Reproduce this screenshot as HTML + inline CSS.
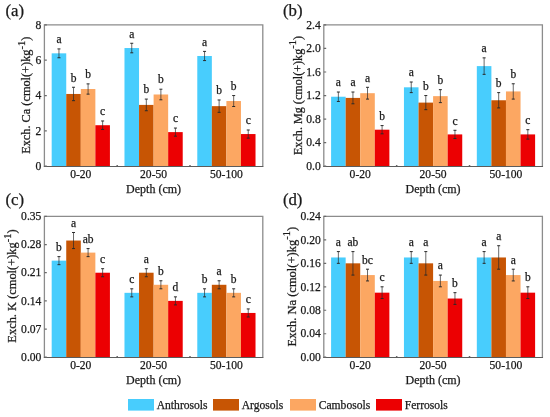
<!DOCTYPE html>
<html><head><meta charset="utf-8"><style>
html,body{margin:0;padding:0;background:#fff;}
body{width:550px;height:417px;overflow:hidden;}
svg{display:block;will-change:transform;font-family:"Liberation Serif",serif;fill:#1a1a1a;}
text{fill:#1a1a1a;stroke:#1a1a1a;stroke-width:0.25px;}
</style></head><body>
<svg width="550" height="417" viewBox="0 0 550 417">
<rect width="550" height="417" fill="#fff"/>
<rect x="51.68" y="53.34" width="14.56" height="112.86" fill="#48cdfd"/>
<rect x="66.24" y="93.96" width="14.56" height="72.24" fill="#c75504"/>
<rect x="80.8" y="89.01" width="14.56" height="77.19" fill="#fca762"/>
<rect x="95.36" y="125.22" width="14.56" height="40.98" fill="#ec0002"/>
<rect x="124.48" y="48.04" width="14.56" height="118.16" fill="#48cdfd"/>
<rect x="139.04" y="104.91" width="14.56" height="61.29" fill="#c75504"/>
<rect x="153.6" y="94.49" width="14.56" height="71.71" fill="#fca762"/>
<rect x="168.16" y="132.11" width="14.56" height="34.09" fill="#ec0002"/>
<rect x="197.28" y="55.99" width="14.56" height="110.21" fill="#48cdfd"/>
<rect x="211.84" y="106.15" width="14.56" height="60.05" fill="#c75504"/>
<rect x="226.4" y="101.03" width="14.56" height="65.17" fill="#fca762"/>
<rect x="240.96" y="134.05" width="14.56" height="32.15" fill="#ec0002"/>
<path d="M58.96 48.92V57.75" stroke="#2a2a2a" stroke-width="0.7" fill="none"/>
<path d="M57.46 48.92H60.46M57.46 57.75H60.46" stroke="#2a2a2a" stroke-width="1" fill="none"/>
<text x="58.96" y="43.22" font-size="11.5" text-anchor="middle">a</text>
<path d="M73.52 87.25V100.67" stroke="#2a2a2a" stroke-width="0.7" fill="none"/>
<path d="M72.02 87.25H75.02M72.02 100.67H75.02" stroke="#2a2a2a" stroke-width="1" fill="none"/>
<text x="73.52" y="81.55" font-size="11.5" text-anchor="middle">b</text>
<path d="M88.08 83.89V94.14" stroke="#2a2a2a" stroke-width="0.7" fill="none"/>
<path d="M86.58 83.89H89.58M86.58 94.14H89.58" stroke="#2a2a2a" stroke-width="1" fill="none"/>
<text x="88.08" y="78.19" font-size="11.5" text-anchor="middle">b</text>
<path d="M102.64 120.98V129.46" stroke="#2a2a2a" stroke-width="0.7" fill="none"/>
<path d="M101.14 120.98H104.14M101.14 129.46H104.14" stroke="#2a2a2a" stroke-width="1" fill="none"/>
<text x="102.64" y="115.28" font-size="11.5" text-anchor="middle">c</text>
<path d="M131.76 43.27V52.81" stroke="#2a2a2a" stroke-width="0.7" fill="none"/>
<path d="M130.26 43.27H133.26M130.26 52.81H133.26" stroke="#2a2a2a" stroke-width="1" fill="none"/>
<text x="131.76" y="37.57" font-size="11.5" text-anchor="middle">a</text>
<path d="M146.32 99.08V110.74" stroke="#2a2a2a" stroke-width="0.7" fill="none"/>
<path d="M144.82 99.08H147.82M144.82 110.74H147.82" stroke="#2a2a2a" stroke-width="1" fill="none"/>
<text x="146.32" y="93.38" font-size="11.5" text-anchor="middle">b</text>
<path d="M160.88 89.19V99.79" stroke="#2a2a2a" stroke-width="0.7" fill="none"/>
<path d="M159.38 89.19H162.38M159.38 99.79H162.38" stroke="#2a2a2a" stroke-width="1" fill="none"/>
<text x="160.88" y="83.49" font-size="11.5" text-anchor="middle">b</text>
<path d="M175.44 128.05V136.17" stroke="#2a2a2a" stroke-width="0.7" fill="none"/>
<path d="M173.94 128.05H176.94M173.94 136.17H176.94" stroke="#2a2a2a" stroke-width="1" fill="none"/>
<text x="175.44" y="122.35" font-size="11.5" text-anchor="middle">c</text>
<path d="M204.56 51.39V60.58" stroke="#2a2a2a" stroke-width="0.7" fill="none"/>
<path d="M203.06 51.39H206.06M203.06 60.58H206.06" stroke="#2a2a2a" stroke-width="1" fill="none"/>
<text x="204.56" y="45.69" font-size="11.5" text-anchor="middle">a</text>
<path d="M219.12 99.97V112.33" stroke="#2a2a2a" stroke-width="0.7" fill="none"/>
<path d="M217.62 99.97H220.62M217.62 112.33H220.62" stroke="#2a2a2a" stroke-width="1" fill="none"/>
<text x="219.12" y="94.27" font-size="11.5" text-anchor="middle">b</text>
<path d="M233.68 95.55V106.5" stroke="#2a2a2a" stroke-width="0.7" fill="none"/>
<path d="M232.18 95.55H235.18M232.18 106.5H235.18" stroke="#2a2a2a" stroke-width="1" fill="none"/>
<text x="233.68" y="89.85" font-size="11.5" text-anchor="middle">b</text>
<path d="M248.24 129.99V138.12" stroke="#2a2a2a" stroke-width="0.7" fill="none"/>
<path d="M246.74 129.99H249.74M246.74 138.12H249.74" stroke="#2a2a2a" stroke-width="1" fill="none"/>
<text x="248.24" y="124.29" font-size="11.5" text-anchor="middle">c</text>
<path d="M44.4 166.2V24.9H262.8V166.2" fill="none" stroke="#8c8c8c" stroke-width="1.3"/>
<path d="M43.75 166.5H263.45" fill="none" stroke="#5c5c5c" stroke-width="1"/>
<text x="41.4" y="169.9" font-size="11.6" text-anchor="end">0</text>
<text x="41.4" y="134.57" font-size="11.6" text-anchor="end">2</text>
<text x="41.4" y="99.25" font-size="11.6" text-anchor="end">4</text>
<text x="41.4" y="63.92" font-size="11.6" text-anchor="end">6</text>
<text x="41.4" y="28.6" font-size="11.6" text-anchor="end">8</text>
<path d="M44.4 166.2h2.4M44.4 130.88h2.4M44.4 95.55h2.4M44.4 60.22h2.4M44.4 24.9h2.4" stroke="#6a6a6a" stroke-width="1.2" fill="none"/>
<path d="M117.2 166v-1M190 166v-1" stroke="#6a6a6a" stroke-width="1.5" fill="none"/>
<text x="80.8" y="178.3" font-size="11.6" text-anchor="middle">0-20</text>
<text x="153.6" y="178.3" font-size="11.6" text-anchor="middle">20-50</text>
<text x="226.4" y="178.3" font-size="11.6" text-anchor="middle">50-100</text>
<text x="153.6" y="192.9" font-size="12" text-anchor="middle">Depth (cm)</text>
<text transform="translate(30.4 95.25) rotate(-90)" x="0" y="0" font-size="12.3" text-anchor="middle">Exch. Ca (cmol(+)kg<tspan dy="-5.5" font-size="10.5">-1</tspan><tspan dy="5.5">)</tspan></text>
<text x="5.4" y="15.9" font-size="16.8">(a)</text>
<rect x="331.09" y="96.73" width="14.57" height="69.47" fill="#48cdfd"/>
<rect x="345.66" y="97.91" width="14.57" height="68.29" fill="#c75504"/>
<rect x="360.23" y="93.19" width="14.57" height="73" fill="#fca762"/>
<rect x="374.81" y="129.7" width="14.57" height="36.5" fill="#ec0002"/>
<rect x="403.95" y="87.31" width="14.57" height="78.89" fill="#48cdfd"/>
<rect x="418.53" y="102.61" width="14.57" height="63.58" fill="#c75504"/>
<rect x="433.1" y="96.14" width="14.57" height="70.06" fill="#fca762"/>
<rect x="447.67" y="134.41" width="14.57" height="31.79" fill="#ec0002"/>
<rect x="476.82" y="66.11" width="14.57" height="100.09" fill="#48cdfd"/>
<rect x="491.39" y="100.26" width="14.57" height="65.94" fill="#c75504"/>
<rect x="505.97" y="91.43" width="14.57" height="74.77" fill="#fca762"/>
<rect x="520.54" y="134.41" width="14.57" height="31.79" fill="#ec0002"/>
<path d="M338.37 92.02V101.44" stroke="#2a2a2a" stroke-width="0.7" fill="none"/>
<path d="M336.87 92.02H339.87M336.87 101.44H339.87" stroke="#2a2a2a" stroke-width="1" fill="none"/>
<text x="338.37" y="86.32" font-size="11.5" text-anchor="middle">a</text>
<path d="M352.95 92.02V103.79" stroke="#2a2a2a" stroke-width="0.7" fill="none"/>
<path d="M351.45 92.02H354.45M351.45 103.79H354.45" stroke="#2a2a2a" stroke-width="1" fill="none"/>
<text x="352.95" y="86.32" font-size="11.5" text-anchor="middle">a</text>
<path d="M367.52 87.31V99.08" stroke="#2a2a2a" stroke-width="0.7" fill="none"/>
<path d="M366.02 87.31H369.02M366.02 99.08H369.02" stroke="#2a2a2a" stroke-width="1" fill="none"/>
<text x="367.52" y="81.61" font-size="11.5" text-anchor="middle">a</text>
<path d="M382.09 125.58V133.82" stroke="#2a2a2a" stroke-width="0.7" fill="none"/>
<path d="M380.59 125.58H383.59M380.59 133.82H383.59" stroke="#2a2a2a" stroke-width="1" fill="none"/>
<text x="382.09" y="119.88" font-size="11.5" text-anchor="middle">b</text>
<path d="M411.24 82.01V92.61" stroke="#2a2a2a" stroke-width="0.7" fill="none"/>
<path d="M409.74 82.01H412.74M409.74 92.61H412.74" stroke="#2a2a2a" stroke-width="1" fill="none"/>
<text x="411.24" y="76.31" font-size="11.5" text-anchor="middle">a</text>
<path d="M425.81 95.55V109.68" stroke="#2a2a2a" stroke-width="0.7" fill="none"/>
<path d="M424.31 95.55H427.31M424.31 109.68H427.31" stroke="#2a2a2a" stroke-width="1" fill="none"/>
<text x="425.81" y="89.85" font-size="11.5" text-anchor="middle">b</text>
<path d="M440.39 89.66V102.62" stroke="#2a2a2a" stroke-width="0.7" fill="none"/>
<path d="M438.89 89.66H441.89M438.89 102.62H441.89" stroke="#2a2a2a" stroke-width="1" fill="none"/>
<text x="440.39" y="83.96" font-size="11.5" text-anchor="middle">b</text>
<path d="M454.96 130.29V138.53" stroke="#2a2a2a" stroke-width="0.7" fill="none"/>
<path d="M453.46 130.29H456.46M453.46 138.53H456.46" stroke="#2a2a2a" stroke-width="1" fill="none"/>
<text x="454.96" y="124.59" font-size="11.5" text-anchor="middle">c</text>
<path d="M484.11 57.87V74.35" stroke="#2a2a2a" stroke-width="0.7" fill="none"/>
<path d="M482.61 57.87H485.61M482.61 74.35H485.61" stroke="#2a2a2a" stroke-width="1" fill="none"/>
<text x="484.11" y="52.17" font-size="11.5" text-anchor="middle">a</text>
<path d="M498.68 92.61V107.91" stroke="#2a2a2a" stroke-width="0.7" fill="none"/>
<path d="M497.18 92.61H500.18M497.18 107.91H500.18" stroke="#2a2a2a" stroke-width="1" fill="none"/>
<text x="498.68" y="86.91" font-size="11.5" text-anchor="middle">b</text>
<path d="M513.25 83.78V99.08" stroke="#2a2a2a" stroke-width="0.7" fill="none"/>
<path d="M511.75 83.78H514.75M511.75 99.08H514.75" stroke="#2a2a2a" stroke-width="1" fill="none"/>
<text x="513.25" y="78.08" font-size="11.5" text-anchor="middle">b</text>
<path d="M527.83 129.7V139.12" stroke="#2a2a2a" stroke-width="0.7" fill="none"/>
<path d="M526.33 129.7H529.33M526.33 139.12H529.33" stroke="#2a2a2a" stroke-width="1" fill="none"/>
<text x="527.83" y="124" font-size="11.5" text-anchor="middle">c</text>
<path d="M323.8 166.2V24.9H542.4V166.2" fill="none" stroke="#8c8c8c" stroke-width="1.3"/>
<path d="M323.15 166.5H543.05" fill="none" stroke="#5c5c5c" stroke-width="1"/>
<text x="320.8" y="169.9" font-size="11.6" text-anchor="end">0.0</text>
<text x="320.8" y="146.35" font-size="11.6" text-anchor="end">0.4</text>
<text x="320.8" y="122.8" font-size="11.6" text-anchor="end">0.8</text>
<text x="320.8" y="99.25" font-size="11.6" text-anchor="end">1.2</text>
<text x="320.8" y="75.7" font-size="11.6" text-anchor="end">1.6</text>
<text x="320.8" y="52.15" font-size="11.6" text-anchor="end">2.0</text>
<text x="320.8" y="28.6" font-size="11.6" text-anchor="end">2.4</text>
<path d="M323.8 166.2h2.4M323.8 142.65h2.4M323.8 119.1h2.4M323.8 95.55h2.4M323.8 72h2.4M323.8 48.45h2.4M323.8 24.9h2.4" stroke="#6a6a6a" stroke-width="1.2" fill="none"/>
<path d="M396.67 166v-1M469.53 166v-1" stroke="#6a6a6a" stroke-width="1.5" fill="none"/>
<text x="360.23" y="178.3" font-size="11.6" text-anchor="middle">0-20</text>
<text x="433.1" y="178.3" font-size="11.6" text-anchor="middle">20-50</text>
<text x="505.97" y="178.3" font-size="11.6" text-anchor="middle">50-100</text>
<text x="433.1" y="192.9" font-size="12" text-anchor="middle">Depth (cm)</text>
<text transform="translate(301.6 95.5) rotate(-90)" x="0" y="0" font-size="12.15" text-anchor="middle">Exch. Mg (cmol(+)kg<tspan dy="-5.5" font-size="10.5">-1</tspan><tspan dy="5.5">)</tspan></text>
<text x="283" y="15.9" font-size="16.8">(b)</text>
<rect x="51.68" y="260.65" width="14.56" height="96.55" fill="#48cdfd"/>
<rect x="66.24" y="240.54" width="14.56" height="116.66" fill="#c75504"/>
<rect x="80.8" y="252.61" width="14.56" height="104.59" fill="#fca762"/>
<rect x="95.36" y="272.72" width="14.56" height="84.48" fill="#ec0002"/>
<rect x="124.48" y="292.83" width="14.56" height="64.37" fill="#48cdfd"/>
<rect x="139.04" y="272.72" width="14.56" height="84.48" fill="#c75504"/>
<rect x="153.6" y="284.79" width="14.56" height="72.41" fill="#fca762"/>
<rect x="168.16" y="300.88" width="14.56" height="56.32" fill="#ec0002"/>
<rect x="197.28" y="292.83" width="14.56" height="64.37" fill="#48cdfd"/>
<rect x="211.84" y="284.79" width="14.56" height="72.41" fill="#c75504"/>
<rect x="226.4" y="292.83" width="14.56" height="64.37" fill="#fca762"/>
<rect x="240.96" y="312.95" width="14.56" height="44.25" fill="#ec0002"/>
<path d="M58.96 256.63V264.67" stroke="#2a2a2a" stroke-width="0.7" fill="none"/>
<path d="M57.46 256.63H60.46M57.46 264.67H60.46" stroke="#2a2a2a" stroke-width="1" fill="none"/>
<text x="58.96" y="250.93" font-size="11.5" text-anchor="middle">b</text>
<path d="M73.52 232.49V248.58" stroke="#2a2a2a" stroke-width="0.7" fill="none"/>
<path d="M72.02 232.49H75.02M72.02 248.58H75.02" stroke="#2a2a2a" stroke-width="1" fill="none"/>
<text x="73.52" y="226.79" font-size="11.5" text-anchor="middle">a</text>
<path d="M88.08 248.58V256.63" stroke="#2a2a2a" stroke-width="0.7" fill="none"/>
<path d="M86.58 248.58H89.58M86.58 256.63H89.58" stroke="#2a2a2a" stroke-width="1" fill="none"/>
<text x="88.08" y="242.88" font-size="11.5" text-anchor="middle">ab</text>
<path d="M102.64 268.7V276.74" stroke="#2a2a2a" stroke-width="0.7" fill="none"/>
<path d="M101.14 268.7H104.14M101.14 276.74H104.14" stroke="#2a2a2a" stroke-width="1" fill="none"/>
<text x="102.64" y="263" font-size="11.5" text-anchor="middle">c</text>
<path d="M131.76 288.81V296.86" stroke="#2a2a2a" stroke-width="0.7" fill="none"/>
<path d="M130.26 288.81H133.26M130.26 296.86H133.26" stroke="#2a2a2a" stroke-width="1" fill="none"/>
<text x="131.76" y="283.11" font-size="11.5" text-anchor="middle">c</text>
<path d="M146.32 268.7V276.74" stroke="#2a2a2a" stroke-width="0.7" fill="none"/>
<path d="M144.82 268.7H147.82M144.82 276.74H147.82" stroke="#2a2a2a" stroke-width="1" fill="none"/>
<text x="146.32" y="263" font-size="11.5" text-anchor="middle">a</text>
<path d="M160.88 280.77V288.81" stroke="#2a2a2a" stroke-width="0.7" fill="none"/>
<path d="M159.38 280.77H162.38M159.38 288.81H162.38" stroke="#2a2a2a" stroke-width="1" fill="none"/>
<text x="160.88" y="275.07" font-size="11.5" text-anchor="middle">b</text>
<path d="M175.44 296.86V304.9" stroke="#2a2a2a" stroke-width="0.7" fill="none"/>
<path d="M173.94 296.86H176.94M173.94 304.9H176.94" stroke="#2a2a2a" stroke-width="1" fill="none"/>
<text x="175.44" y="291.16" font-size="11.5" text-anchor="middle">d</text>
<path d="M204.56 288.81V296.86" stroke="#2a2a2a" stroke-width="0.7" fill="none"/>
<path d="M203.06 288.81H206.06M203.06 296.86H206.06" stroke="#2a2a2a" stroke-width="1" fill="none"/>
<text x="204.56" y="283.11" font-size="11.5" text-anchor="middle">b</text>
<path d="M219.12 280.77V288.81" stroke="#2a2a2a" stroke-width="0.7" fill="none"/>
<path d="M217.62 280.77H220.62M217.62 288.81H220.62" stroke="#2a2a2a" stroke-width="1" fill="none"/>
<text x="219.12" y="275.07" font-size="11.5" text-anchor="middle">a</text>
<path d="M233.68 288.81V296.86" stroke="#2a2a2a" stroke-width="0.7" fill="none"/>
<path d="M232.18 288.81H235.18M232.18 296.86H235.18" stroke="#2a2a2a" stroke-width="1" fill="none"/>
<text x="233.68" y="283.11" font-size="11.5" text-anchor="middle">b</text>
<path d="M248.24 308.93V316.97" stroke="#2a2a2a" stroke-width="0.7" fill="none"/>
<path d="M246.74 308.93H249.74M246.74 316.97H249.74" stroke="#2a2a2a" stroke-width="1" fill="none"/>
<text x="248.24" y="303.23" font-size="11.5" text-anchor="middle">c</text>
<path d="M44.4 357.2V216.4H262.8V357.2" fill="none" stroke="#8c8c8c" stroke-width="1.3"/>
<path d="M43.75 357.5H263.45" fill="none" stroke="#5c5c5c" stroke-width="1"/>
<text x="41.4" y="360.9" font-size="11.6" text-anchor="end">0.00</text>
<text x="41.4" y="332.74" font-size="11.6" text-anchor="end">0.07</text>
<text x="41.4" y="304.58" font-size="11.6" text-anchor="end">0.14</text>
<text x="41.4" y="276.42" font-size="11.6" text-anchor="end">0.21</text>
<text x="41.4" y="248.26" font-size="11.6" text-anchor="end">0.28</text>
<text x="41.4" y="220.1" font-size="11.6" text-anchor="end">0.35</text>
<path d="M44.4 357.2h2.4M44.4 329.04h2.4M44.4 300.88h2.4M44.4 272.72h2.4M44.4 244.56h2.4M44.4 216.4h2.4" stroke="#6a6a6a" stroke-width="1.2" fill="none"/>
<path d="M117.2 357v-1M190 357v-1" stroke="#6a6a6a" stroke-width="1.5" fill="none"/>
<text x="80.8" y="369.3" font-size="11.6" text-anchor="middle">0-20</text>
<text x="153.6" y="369.3" font-size="11.6" text-anchor="middle">20-50</text>
<text x="226.4" y="369.3" font-size="11.6" text-anchor="middle">50-100</text>
<text x="153.6" y="383.9" font-size="12" text-anchor="middle">Depth (cm)</text>
<text transform="translate(16.2 286) rotate(-90)" x="0" y="0" font-size="12.41" text-anchor="middle">Exch. K (cmol(+)kg<tspan dy="-5.5" font-size="10.5">-1</tspan><tspan dy="5.5">)</tspan></text>
<text x="5.4" y="205.3" font-size="16.8">(c)</text>
<rect x="331.09" y="257.47" width="14.57" height="99.73" fill="#48cdfd"/>
<rect x="345.66" y="263.33" width="14.57" height="93.87" fill="#c75504"/>
<rect x="360.23" y="275.07" width="14.57" height="82.13" fill="#fca762"/>
<rect x="374.81" y="292.67" width="14.57" height="64.53" fill="#ec0002"/>
<rect x="403.95" y="257.47" width="14.57" height="99.73" fill="#48cdfd"/>
<rect x="418.53" y="263.33" width="14.57" height="93.87" fill="#c75504"/>
<rect x="433.1" y="280.93" width="14.57" height="76.27" fill="#fca762"/>
<rect x="447.67" y="298.53" width="14.57" height="58.67" fill="#ec0002"/>
<rect x="476.82" y="257.47" width="14.57" height="99.73" fill="#48cdfd"/>
<rect x="491.39" y="257.47" width="14.57" height="99.73" fill="#c75504"/>
<rect x="505.97" y="275.07" width="14.57" height="82.13" fill="#fca762"/>
<rect x="520.54" y="292.67" width="14.57" height="64.53" fill="#ec0002"/>
<path d="M338.37 251.6V263.33" stroke="#2a2a2a" stroke-width="0.7" fill="none"/>
<path d="M336.87 251.6H339.87M336.87 263.33H339.87" stroke="#2a2a2a" stroke-width="1" fill="none"/>
<text x="338.37" y="245.9" font-size="11.5" text-anchor="middle">a</text>
<path d="M352.95 251.6V275.07" stroke="#2a2a2a" stroke-width="0.7" fill="none"/>
<path d="M351.45 251.6H354.45M351.45 275.07H354.45" stroke="#2a2a2a" stroke-width="1" fill="none"/>
<text x="352.95" y="245.9" font-size="11.5" text-anchor="middle">ab</text>
<path d="M367.52 269.2V280.93" stroke="#2a2a2a" stroke-width="0.7" fill="none"/>
<path d="M366.02 269.2H369.02M366.02 280.93H369.02" stroke="#2a2a2a" stroke-width="1" fill="none"/>
<text x="367.52" y="263.5" font-size="11.5" text-anchor="middle">bc</text>
<path d="M382.09 286.8V298.53" stroke="#2a2a2a" stroke-width="0.7" fill="none"/>
<path d="M380.59 286.8H383.59M380.59 298.53H383.59" stroke="#2a2a2a" stroke-width="1" fill="none"/>
<text x="382.09" y="281.1" font-size="11.5" text-anchor="middle">c</text>
<path d="M411.24 251.6V263.33" stroke="#2a2a2a" stroke-width="0.7" fill="none"/>
<path d="M409.74 251.6H412.74M409.74 263.33H412.74" stroke="#2a2a2a" stroke-width="1" fill="none"/>
<text x="411.24" y="245.9" font-size="11.5" text-anchor="middle">a</text>
<path d="M425.81 251.6V275.07" stroke="#2a2a2a" stroke-width="0.7" fill="none"/>
<path d="M424.31 251.6H427.31M424.31 275.07H427.31" stroke="#2a2a2a" stroke-width="1" fill="none"/>
<text x="425.81" y="245.9" font-size="11.5" text-anchor="middle">a</text>
<path d="M440.39 275.07V286.8" stroke="#2a2a2a" stroke-width="0.7" fill="none"/>
<path d="M438.89 275.07H441.89M438.89 286.8H441.89" stroke="#2a2a2a" stroke-width="1" fill="none"/>
<text x="440.39" y="269.37" font-size="11.5" text-anchor="middle">a</text>
<path d="M454.96 292.67V304.4" stroke="#2a2a2a" stroke-width="0.7" fill="none"/>
<path d="M453.46 292.67H456.46M453.46 304.4H456.46" stroke="#2a2a2a" stroke-width="1" fill="none"/>
<text x="454.96" y="286.97" font-size="11.5" text-anchor="middle">b</text>
<path d="M484.11 251.6V263.33" stroke="#2a2a2a" stroke-width="0.7" fill="none"/>
<path d="M482.61 251.6H485.61M482.61 263.33H485.61" stroke="#2a2a2a" stroke-width="1" fill="none"/>
<text x="484.11" y="245.9" font-size="11.5" text-anchor="middle">a</text>
<path d="M498.68 245.73V269.2" stroke="#2a2a2a" stroke-width="0.7" fill="none"/>
<path d="M497.18 245.73H500.18M497.18 269.2H500.18" stroke="#2a2a2a" stroke-width="1" fill="none"/>
<text x="498.68" y="240.03" font-size="11.5" text-anchor="middle">a</text>
<path d="M513.25 269.2V280.93" stroke="#2a2a2a" stroke-width="0.7" fill="none"/>
<path d="M511.75 269.2H514.75M511.75 280.93H514.75" stroke="#2a2a2a" stroke-width="1" fill="none"/>
<text x="513.25" y="263.5" font-size="11.5" text-anchor="middle">a</text>
<path d="M527.83 286.8V298.53" stroke="#2a2a2a" stroke-width="0.7" fill="none"/>
<path d="M526.33 286.8H529.33M526.33 298.53H529.33" stroke="#2a2a2a" stroke-width="1" fill="none"/>
<text x="527.83" y="281.1" font-size="11.5" text-anchor="middle">b</text>
<path d="M323.8 357.2V216.4H542.4V357.2" fill="none" stroke="#8c8c8c" stroke-width="1.3"/>
<path d="M323.15 357.5H543.05" fill="none" stroke="#5c5c5c" stroke-width="1"/>
<text x="320.8" y="360.9" font-size="11.6" text-anchor="end">0.00</text>
<text x="320.8" y="337.43" font-size="11.6" text-anchor="end">0.04</text>
<text x="320.8" y="313.97" font-size="11.6" text-anchor="end">0.08</text>
<text x="320.8" y="290.5" font-size="11.6" text-anchor="end">0.12</text>
<text x="320.8" y="267.03" font-size="11.6" text-anchor="end">0.16</text>
<text x="320.8" y="243.57" font-size="11.6" text-anchor="end">0.20</text>
<text x="320.8" y="220.1" font-size="11.6" text-anchor="end">0.24</text>
<path d="M323.8 357.2h2.4M323.8 333.73h2.4M323.8 310.27h2.4M323.8 286.8h2.4M323.8 263.33h2.4M323.8 239.87h2.4M323.8 216.4h2.4" stroke="#6a6a6a" stroke-width="1.2" fill="none"/>
<path d="M396.67 357v-1M469.53 357v-1" stroke="#6a6a6a" stroke-width="1.5" fill="none"/>
<text x="360.23" y="369.3" font-size="11.6" text-anchor="middle">0-20</text>
<text x="433.1" y="369.3" font-size="11.6" text-anchor="middle">20-50</text>
<text x="505.97" y="369.3" font-size="11.6" text-anchor="middle">50-100</text>
<text x="433.1" y="383.9" font-size="12" text-anchor="middle">Depth (cm)</text>
<text transform="translate(295.7 286.65) rotate(-90)" x="0" y="0" font-size="12.5" text-anchor="middle">Exch. Na (cmol(+)kg<tspan dy="-5.5" font-size="10.5">-1</tspan><tspan dy="5.5">)</tspan></text>
<text x="282.9" y="205.3" font-size="16.8">(d)</text>
<rect x="128" y="399" width="26" height="11.6" fill="#48cdfd"/>
<text x="156.7" y="409" font-size="11.6">Anthrosols</text>
<rect x="213" y="399" width="26" height="11.6" fill="#c75504"/>
<text x="241.7" y="409" font-size="11.6">Argosols</text>
<rect x="290" y="399" width="26" height="11.6" fill="#fca762"/>
<text x="318.7" y="409" font-size="11.6">Cambosols</text>
<rect x="376" y="399" width="26" height="11.6" fill="#ec0002"/>
<text x="404.7" y="409" font-size="11.6">Ferrosols</text>
</svg>
</body></html>
